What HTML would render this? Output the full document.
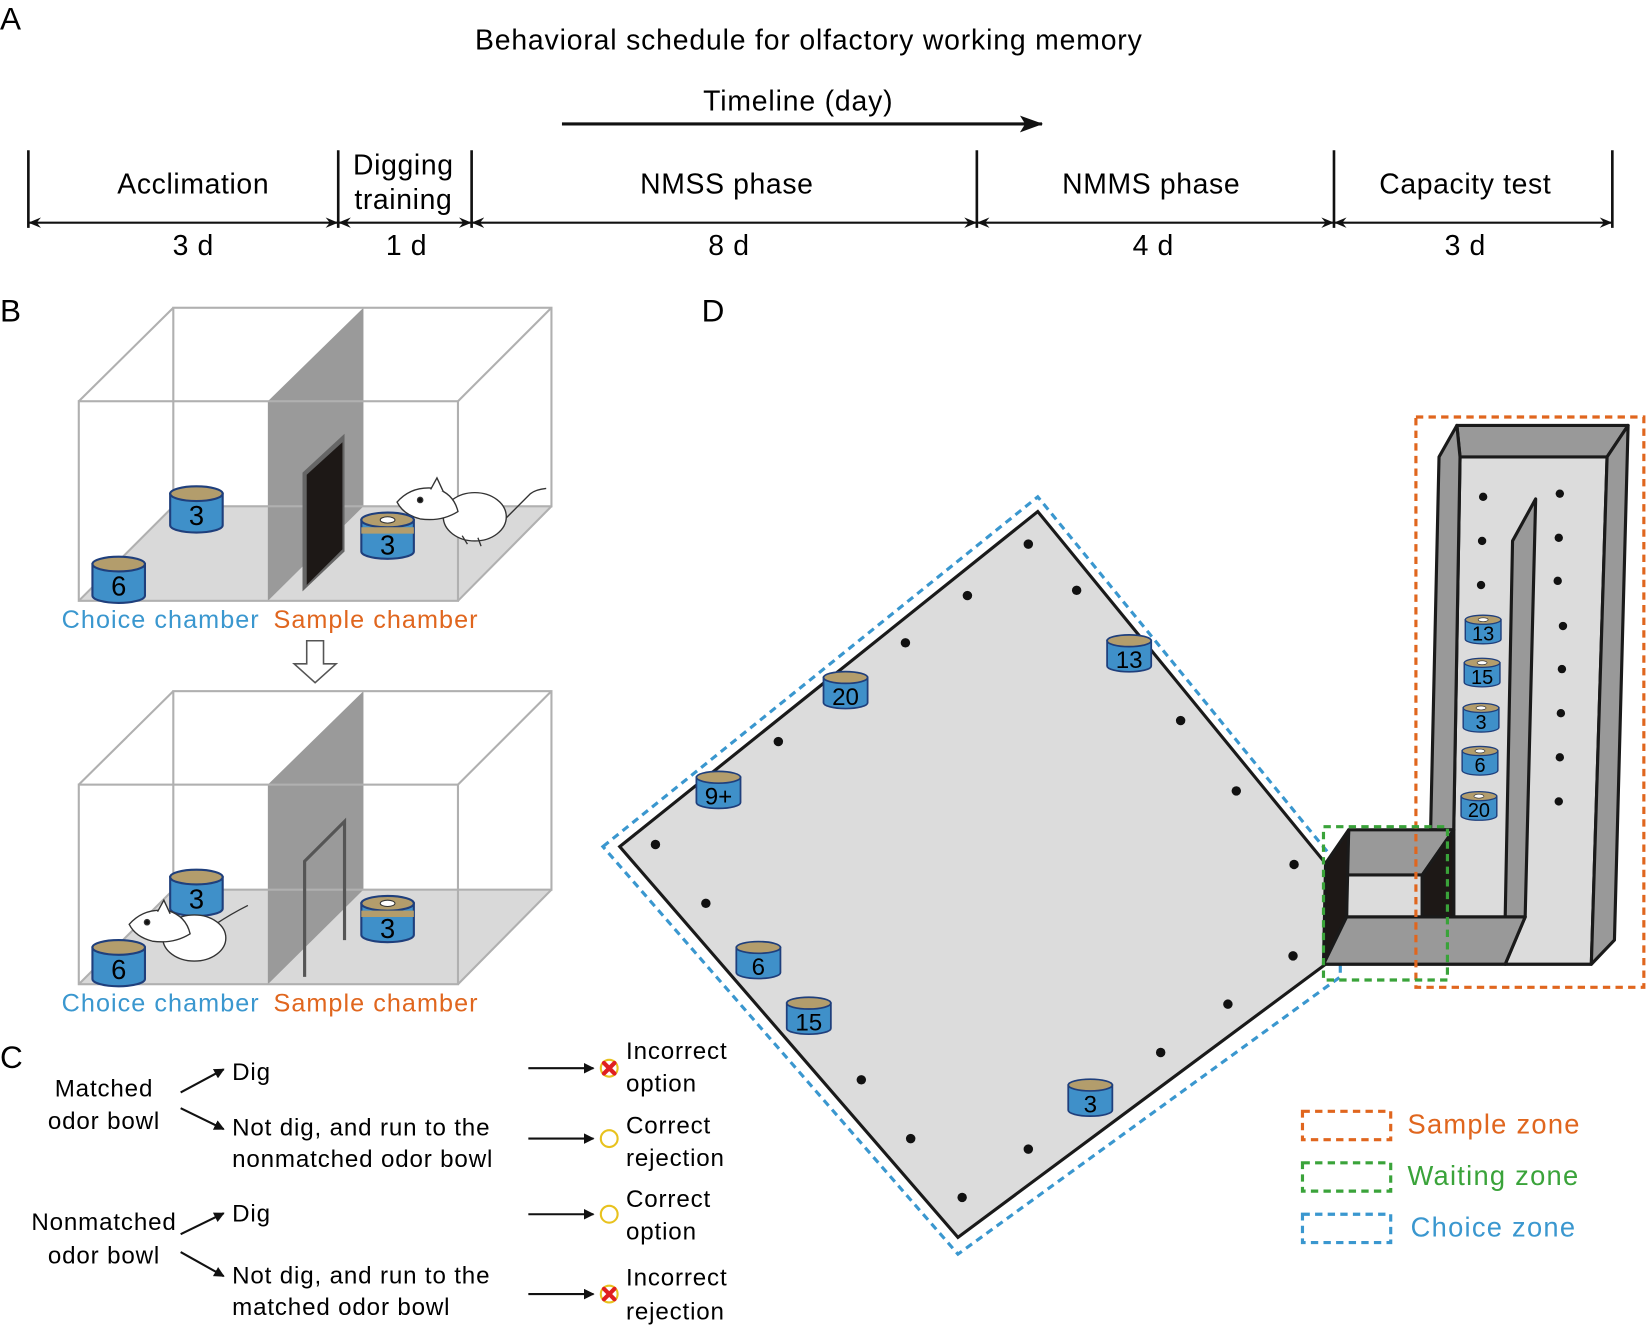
<!DOCTYPE html>
<html><head><meta charset="utf-8"><style>
html,body{margin:0;padding:0;background:#fff}
svg{display:block}
text{font-family:"Liberation Sans",Arial,sans-serif}
</style></head><body>
<svg width="1647" height="1326" viewBox="0 0 1568 1262.4" xmlns="http://www.w3.org/2000/svg">
<defs>
<marker id="ah" markerWidth="10" markerHeight="10" refX="9" refY="5" orient="auto" markerUnits="userSpaceOnUse"><path d="M0,0 L10,5 L0,10 Z" fill="#111"/></marker>
<marker id="ahb" markerWidth="22" markerHeight="16" refX="21" refY="8" orient="auto" markerUnits="userSpaceOnUse"><path d="M0,0 L22,8 L0,16 L5,8 Z" fill="#111"/></marker>
<marker id="ahs" markerWidth="12" markerHeight="10" refX="11" refY="5" orient="auto-start-reverse" markerUnits="userSpaceOnUse"><path d="M0,0 L12,5 L0,10 L4,5 Z" fill="#111"/></marker>
<g id="bowl">
<path d="M-25,0 L-25,30 A25,7 0 0 0 25,30 L25,0 Z" fill="#3f90c9" stroke="#1f3f7c" stroke-width="2"/>
<ellipse cx="0" cy="0" rx="25" ry="7" fill="#b39d6c" stroke="#1f3f7c" stroke-width="2"/>
</g>
<g id="bowld">
<path d="M-25,0 L-25,30 A25,7 0 0 0 25,30 L25,0 Z" fill="#3f90c9" stroke="#1f3f7c" stroke-width="2"/>
<ellipse cx="0" cy="0" rx="25" ry="7" fill="#b39d6c" stroke="#1f3f7c" stroke-width="2"/>
<ellipse cx="0" cy="0" rx="7" ry="3" fill="#fff" stroke="#333" stroke-width="1"/>
</g>
</defs>

<!-- Panel A -->
<text x="0" y="28" font-size="30">A</text>
<g letter-spacing="0.8">
<text x="770" y="47" font-size="27" text-anchor="middle">Behavioral schedule for olfactory working memory</text>
<text x="760" y="105" font-size="27" text-anchor="middle">Timeline (day)</text>
</g>
<line x1="535" y1="118" x2="992" y2="118" stroke="#111" stroke-width="3" marker-end="url(#ahb)"/>
<g stroke="#111" stroke-width="2.5">
<line x1="27" y1="143" x2="27" y2="217"/><line x1="322" y1="143" x2="322" y2="217"/>
<line x1="449" y1="143" x2="449" y2="217"/><line x1="930" y1="143" x2="930" y2="217"/>
<line x1="1270" y1="143" x2="1270" y2="217"/><line x1="1535" y1="143" x2="1535" y2="217"/>
</g>
<g stroke="#111" stroke-width="2">
<line x1="28" y1="212" x2="321" y2="212" marker-start="url(#ahs)" marker-end="url(#ahs)"/>
<line x1="323" y1="212" x2="448" y2="212" marker-start="url(#ahs)" marker-end="url(#ahs)"/>
<line x1="450" y1="212" x2="929" y2="212" marker-start="url(#ahs)" marker-end="url(#ahs)"/>
<line x1="931" y1="212" x2="1269" y2="212" marker-start="url(#ahs)" marker-end="url(#ahs)"/>
<line x1="1271" y1="212" x2="1534" y2="212" marker-start="url(#ahs)" marker-end="url(#ahs)"/>
</g>
<g font-size="27" text-anchor="middle" letter-spacing="0.6">
<text x="184" y="184">Acclimation</text>
<text x="384" y="166">Digging</text><text x="384" y="199">training</text>
<text x="692" y="184">NMSS phase</text>
<text x="1096" y="184">NMMS phase</text>
<text x="1395" y="184">Capacity test</text>
<text x="184" y="243">3 d</text><text x="387" y="243">1 d</text>
<text x="694" y="243">8 d</text><text x="1098" y="243">4 d</text><text x="1395" y="243">3 d</text>
</g>

<!-- Panel B -->
<text x="0" y="306" font-size="30">B</text>
<g id="box1">
<polygon points="75,572 436,572 525,482 165,482" fill="#d9d9d9"/>
<polygon points="255,382 346,293 346,482 255,572" fill="#9a9a9a"/>
<g fill="none" stroke="#b0b0b0" stroke-width="2">
<rect x="165" y="293" width="360" height="189"/>
<rect x="75" y="382" width="361" height="190"/>
<line x1="75" y1="382" x2="165" y2="293"/><line x1="436" y1="382" x2="525" y2="293"/>
<line x1="75" y1="572" x2="165" y2="482"/><line x1="436" y1="572" x2="525" y2="482"/>
</g>
</g>
<polygon points="288,450 328,413 328,525 288,563" fill="#666"/>
<polygon points="292,452 326,421 326,523 292,557" fill="#1d1816"/>
<g font-size="26" text-anchor="middle">
<use href="#bowl" transform="translate(187,470)"/>
<text x="187" y="500">3</text>
<use href="#bowl" transform="translate(113,537)"/>
<text x="113" y="567">6</text>
</g>
<!-- mouse 1 -->
<g fill="#fff" stroke="#333" stroke-width="1.3">
<path d="M475,500 Q495,480 505,470 Q510,466 520,465" fill="none"/>
<ellipse cx="452" cy="492" rx="30" ry="23"/>
<path d="M378,478 Q392,462 415,465 Q432,470 436,487 Q420,497 400,494 Q384,490 378,478 Z"/>
<path d="M410,466 L416,455 L422,468"/>
<circle cx="400" cy="476" r="2.5" fill="#111"/>
<path d="M440,510 L445,518 M455,512 L458,520" fill="none"/>
</g>
<use href="#bowld" transform="translate(369,495)"/>
<path d="M344,505 L394,505" stroke="#b39d6c" stroke-width="6"/>
<text x="369" y="528" font-size="26" text-anchor="middle">3</text>
<g font-size="24" text-anchor="middle" letter-spacing="1">
<text x="153" y="598" fill="#3a97cf">Choice chamber</text>
<text x="358" y="598" fill="#e0661e">Sample chamber</text>
</g>
<path d="M292,610 L308,610 L308,632 L320,632 L300,650 L280,632 L292,632 Z" fill="#fff" stroke="#555" stroke-width="1.5"/>

<use href="#box1" transform="translate(0,365)"/>
<path d="M290,930 L290,820 L328,782 L328,895" fill="none" stroke="#555" stroke-width="3"/>
<use href="#bowl" transform="translate(187,835)"/>
<text x="187" y="865" font-size="26" text-anchor="middle">3</text>
<g fill="#fff" stroke="#333" stroke-width="1.3">
<path d="M205,880 Q220,870 236,862" fill="none"/>
<ellipse cx="185" cy="893" rx="30" ry="22"/>
<path d="M123,880 Q137,864 160,867 Q177,872 181,889 Q165,899 145,896 Q129,892 123,880 Z"/>
<path d="M150,868 L156,857 L162,870"/>
<circle cx="140" cy="878" r="2.5" fill="#111"/>
</g>
<use href="#bowl" transform="translate(113,902)"/>
<text x="113" y="932" font-size="26" text-anchor="middle">6</text>
<use href="#bowld" transform="translate(369,860)"/>
<path d="M344,870 L394,870" stroke="#b39d6c" stroke-width="6"/>
<text x="369" y="893" font-size="26" text-anchor="middle">3</text>
<g font-size="24" text-anchor="middle" letter-spacing="1">
<text x="153" y="963" fill="#3a97cf">Choice chamber</text>
<text x="358" y="963" fill="#e0661e">Sample chamber</text>
</g>

<!-- Panel C -->
<text x="0" y="1017" font-size="30">C</text>
<g font-size="23" letter-spacing="0.8">
<text x="99" y="1044" text-anchor="middle">Matched</text>
<text x="99" y="1075" text-anchor="middle">odor bowl</text>
<text x="221" y="1028">Dig</text>
<text x="221" y="1081">Not dig, and run to the</text>
<text x="221" y="1111">nonmatched odor bowl</text>
<text x="99" y="1171" text-anchor="middle">Nonmatched</text>
<text x="99" y="1203" text-anchor="middle">odor bowl</text>
<text x="221" y="1163">Dig</text>
<text x="221" y="1222">Not dig, and run to the</text>
<text x="221" y="1252">matched odor bowl</text>
<text x="596" y="1008">Incorrect</text><text x="596" y="1039">option</text>
<text x="596" y="1079">Correct</text><text x="596" y="1110">rejection</text>
<text x="596" y="1149">Correct</text><text x="596" y="1180">option</text>
<text x="596" y="1224">Incorrect</text><text x="596" y="1256">rejection</text>
</g>
<g stroke="#111" stroke-width="2">
<line x1="172" y1="1040" x2="213" y2="1018" marker-end="url(#ah)"/>
<line x1="172" y1="1055" x2="213" y2="1075" marker-end="url(#ah)"/>
<line x1="172" y1="1175" x2="213" y2="1155" marker-end="url(#ah)"/>
<line x1="172" y1="1192" x2="213" y2="1215" marker-end="url(#ah)"/>
<line x1="503" y1="1017" x2="565" y2="1017" marker-end="url(#ah)"/>
<line x1="503" y1="1084" x2="565" y2="1084" marker-end="url(#ah)"/>
<line x1="503" y1="1156" x2="565" y2="1156" marker-end="url(#ah)"/>
<line x1="503" y1="1232" x2="565" y2="1232" marker-end="url(#ah)"/>
</g>
<g fill="none" stroke="#e8c21e" stroke-width="2">
<circle cx="580" cy="1017" r="8"/><circle cx="580" cy="1084" r="8"/>
<circle cx="580" cy="1156" r="8"/><circle cx="580" cy="1232" r="8"/>
</g>
<g stroke="#e02020" stroke-width="4" stroke-linecap="round">
<line x1="575" y1="1012" x2="585" y2="1022"/><line x1="585" y1="1012" x2="575" y2="1022"/>
<line x1="575" y1="1227" x2="585" y2="1237"/><line x1="585" y1="1227" x2="575" y2="1237"/>
</g>

<!-- Panel D -->
<text x="668" y="306" font-size="30">D</text>
<polygon points="574,806 988,473 1276,826 1276,930 912,1194" fill="none" stroke="#3a97cf" stroke-width="3" stroke-dasharray="7,5"/>
<polygon points="590,806 988,487 1262,822 1262,918 912,1178" fill="#dcdcdc" stroke="#1a1a1a" stroke-width="3"/>
<g fill="#111">
<circle cx="979" cy="518" r="4.5"/><circle cx="1025" cy="562" r="4.5"/><circle cx="921" cy="567" r="4.5"/>
<circle cx="862" cy="612" r="4.5"/><circle cx="1124" cy="686" r="4.5"/><circle cx="741" cy="706" r="4.5"/>
<circle cx="1177" cy="753" r="4.5"/><circle cx="624" cy="804" r="4.5"/><circle cx="1232" cy="823" r="4.5"/>
<circle cx="672" cy="860" r="4.5"/><circle cx="1231" cy="910" r="4.5"/><circle cx="1169" cy="956" r="4.5"/>
<circle cx="1105" cy="1002" r="4.5"/><circle cx="820" cy="1028" r="4.5"/><circle cx="867" cy="1084" r="4.5"/>
<circle cx="979" cy="1094" r="4.5"/><circle cx="916" cy="1140" r="4.5"/>
</g>
<g font-size="23" text-anchor="middle">
<use href="#bowl" transform="translate(805,645) scale(0.84,0.8)"/><text x="805" y="671">20</text>
<use href="#bowl" transform="translate(1075,610) scale(0.84,0.8)"/><text x="1075" y="636">13</text>
<use href="#bowl" transform="translate(684,740) scale(0.84,0.8)"/><text x="684" y="766">9+</text>
<use href="#bowl" transform="translate(722,902) scale(0.84,0.8)"/><text x="722" y="928">6</text>
<use href="#bowl" transform="translate(770,955) scale(0.84,0.8)"/><text x="770" y="981">15</text>
<use href="#bowl" transform="translate(1038,1033) scale(0.84,0.8)"/><text x="1038" y="1059">3</text>
</g>
<!-- arm -->
<g stroke="#1a1a1a" stroke-width="3" stroke-linejoin="round">
<polygon points="1390,435 1530,435 1515,918 1433,918 1452,873 1384,873 1384,790 1390,435" fill="#dcdcdc"/>
<polygon points="1387,405 1550,405 1530,435 1390,435" fill="#999"/>
<polygon points="1370,435 1387,405 1390,435 1384,790 1362,790" fill="#999"/>
<polygon points="1530,435 1550,405 1537,895 1515,918" fill="#999"/>
<polygon points="1440,515 1462,475 1452,873 1433,873" fill="#999"/>
<polygon points="1282,833 1354,833 1354,873 1282,873" fill="#dcdcdc"/>
<polygon points="1284,790 1384,790 1354,833 1282,833" fill="#999"/>
<polygon points="1284,790 1262,822 1260,918 1282,873" fill="#1d1816"/>
<polygon points="1354,833 1384,790 1384,873 1354,873" fill="#1d1816"/>
<polygon points="1282,873 1452,873 1433,918 1260,918" fill="#999"/>
</g>
<g fill="#111">
<circle cx="1412" cy="473" r="4"/><circle cx="1411" cy="515" r="4"/><circle cx="1410" cy="557" r="4"/>
<circle cx="1485" cy="470" r="4"/><circle cx="1484" cy="512" r="4"/><circle cx="1483" cy="553" r="4"/>
<circle cx="1488" cy="596" r="4"/><circle cx="1487" cy="637" r="4"/><circle cx="1486" cy="679" r="4"/>
<circle cx="1485" cy="721" r="4"/><circle cx="1484" cy="763" r="4"/>
</g>
<g font-size="19" text-anchor="middle">
<use href="#bowld" transform="translate(1412,590) scale(0.68,0.62)"/><text x="1412" y="610">13</text>
<use href="#bowld" transform="translate(1411,631) scale(0.68,0.62)"/><text x="1411" y="651">15</text>
<use href="#bowld" transform="translate(1410,674) scale(0.68,0.62)"/><text x="1410" y="694">3</text>
<use href="#bowld" transform="translate(1409,715) scale(0.68,0.62)"/><text x="1409" y="735">6</text>
<use href="#bowld" transform="translate(1408,758) scale(0.68,0.62)"/><text x="1408" y="778">20</text>
</g>
<rect x="1348" y="397" width="217" height="543" fill="none" stroke="#e0661e" stroke-width="3" stroke-dasharray="7,5"/>
<rect x="1260" y="787" width="118" height="146" fill="none" stroke="#3aa33a" stroke-width="3" stroke-dasharray="7,5"/>
<!-- legend -->
<rect x="1240" y="1058" width="84" height="27" fill="none" stroke="#e0661e" stroke-width="3" stroke-dasharray="7,5"/>
<rect x="1240" y="1107" width="84" height="27" fill="none" stroke="#3aa33a" stroke-width="3" stroke-dasharray="7,5"/>
<rect x="1240" y="1156" width="84" height="27" fill="none" stroke="#3a97cf" stroke-width="3" stroke-dasharray="7,5"/>
<g font-size="26" letter-spacing="1.2">
<text x="1340" y="1079" fill="#e0661e">Sample zone</text>
<text x="1340" y="1128" fill="#3aa33a">Waiting zone</text>
<text x="1343" y="1177" fill="#3a97cf">Choice zone</text>
</g>
</svg>
</body></html>
